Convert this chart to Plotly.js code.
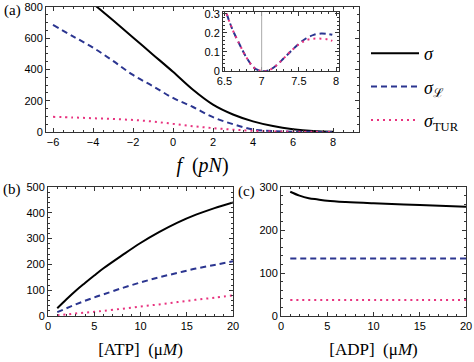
<!DOCTYPE html>
<html>
<head>
<meta charset="utf-8">
<script src="https://cdn.plot.ly/plotly-3.0.1.min.js"></script>
<style>html,body{margin:0;padding:0;background:#fff;}#chart{width:474px;height:362px;}</style>
</head>
<body>
<div id="chart"></div>
<script>
// ---- Panel (a): entropy production vs force f (pN)
const fSigma = [-4, -3, -2, -1, 0, 1, 2, 3, 4, 5, 6, 7, 8];
const sigmaA = [822, 715, 605, 495, 385, 270, 175, 112, 68, 38, 18, 6, 1];
const fA = [-6, -5, -4, -3, -2, -1, 0, 1, 2, 3, 4, 5, 6, 7, 8];
const sigmaLA = [685, 612, 540, 455, 365, 293, 218, 160, 95, 50, 16, 6, 2, 1, 0];
const sigmaTurA = [97, 93, 88, 83, 77, 67, 52, 37, 25, 15, 8, 4, 2, 1, 0];

// ---- Inset of (a)
const fInset = [6.53, 6.6, 6.7, 6.8, 6.9, 7.0, 7.1, 7.2, 7.3, 7.4, 7.5, 7.6, 7.7, 7.8, 7.9, 7.95];
const sigmaLInset = [0.30, 0.225, 0.142, 0.068, 0.016, 0.0, 0.004, 0.03, 0.068, 0.107, 0.143, 0.172, 0.19, 0.197, 0.194, 0.19];
const sigmaTurInset = [0.30, 0.225, 0.142, 0.068, 0.016, 0.0, 0.004, 0.03, 0.068, 0.107, 0.14, 0.162, 0.17, 0.17, 0.165, 0.158];

// ---- Panel (b): vs [ATP]
const atp = [1, 2, 3, 4, 5, 6, 8, 10, 12, 14, 16, 18, 20];
const sigmaB = [30, 65, 98, 128, 157, 185, 235, 283, 325, 362, 393, 418, 440];
const sigmaLB = [15, 30, 45, 59, 72, 84, 108, 130, 150, 167, 184, 198, 212];
const sigmaTurB = [3, 6, 10, 13, 16, 20, 28, 37, 45, 54, 63, 71, 80];

// ---- Panel (c): vs [ADP]
const adp = [1, 2, 3, 4, 5, 7, 10, 15, 20];
const sigmaC = [289, 280, 274, 271, 268, 265, 262, 258, 254];
const sigmaLC = [134, 134, 134, 134, 134, 134, 134, 134, 134];
const sigmaTurC = [37, 37, 37, 37, 37, 37, 37, 37, 37];

const legendNames = ['<i>σ</i>', '<i>σ</i><sub>ℒ</sub>', '<i>σ</i><sub>TUR</sub>'];

const BLACK = '#000000', BLUE = '#2b3590', PINK = '#e8337f';
const W = 474, H = 362;
const px = v => v / W, py = v => 1 - v / H;

const sBlack = {color: BLACK, width: 2, shape: 'spline'};
const sBlue = {color: BLUE, width: 2, dash: '6px,4px', shape: 'spline'};
const sPink = {color: PINK, width: 2, dash: '2px,4px', shape: 'spline'};

const traces = [
  {x: fSigma, y: sigmaA, xaxis: 'x', yaxis: 'y', mode: 'lines', line: sBlack, name: legendNames[0], legendgroup: 'g1'},
  {x: fA, y: sigmaLA, xaxis: 'x', yaxis: 'y', mode: 'lines', line: sBlue, name: legendNames[1], legendgroup: 'g2'},
  {x: fA, y: sigmaTurA, xaxis: 'x', yaxis: 'y', mode: 'lines', line: sPink, name: legendNames[2], legendgroup: 'g3'},
  {x: fInset, y: sigmaLInset, xaxis: 'x4', yaxis: 'y4', mode: 'lines', line: sBlue, showlegend: false},
  {x: fInset, y: sigmaTurInset, xaxis: 'x4', yaxis: 'y4', mode: 'lines', line: sPink, showlegend: false},
  {x: atp, y: sigmaB, xaxis: 'x2', yaxis: 'y2', mode: 'lines', line: sBlack, showlegend: false},
  {x: atp, y: sigmaLB, xaxis: 'x2', yaxis: 'y2', mode: 'lines', line: sBlue, showlegend: false},
  {x: atp, y: sigmaTurB, xaxis: 'x2', yaxis: 'y2', mode: 'lines', line: sPink, showlegend: false},
  {x: adp, y: sigmaC, xaxis: 'x3', yaxis: 'y3', mode: 'lines', line: sBlack, showlegend: false},
  {x: adp, y: sigmaLC, xaxis: 'x3', yaxis: 'y3', mode: 'lines', line: sBlue, showlegend: false},
  {x: adp, y: sigmaTurC, xaxis: 'x3', yaxis: 'y3', mode: 'lines', line: sPink, showlegend: false}
];

const tickFont = {family: 'Liberation Sans, Arial, sans-serif', size: 11, color: '#000'};
function ax(opts) {
  return Object.assign({
    showline: true, linecolor: '#333', linewidth: 1, mirror: 'ticks',
    ticks: 'inside', ticklen: 4, tickwidth: 1, tickcolor: '#333',
    showgrid: false, zeroline: false, tickfont: tickFont, fixedrange: true,
  }, opts);
}
const serif = 'Liberation Serif, DejaVu Serif, serif';

const layout = {
  width: W, height: H,
  margin: {l: 0, r: 0, t: 0, b: 0},
  paper_bgcolor: '#fff', plot_bgcolor: '#fff',
  showlegend: true,
  legend: {x: px(366), y: py(35), xanchor: 'left', yanchor: 'top',
    font: {family: serif, size: 18, color: '#000'}, itemwidth: 48,
    tracegroupgap: 7, bgcolor: 'rgba(0,0,0,0)', traceorder: 'grouped'},
  xaxis: ax({domain: [px(46), px(359)], range: [-6.35, 9.3], anchor: 'y',
    tickvals: [-6, -4, -2, 0, 2, 4, 6, 8], minor: {dtick: 0.5, ticks: 'inside', ticklen: 2, tickcolor: '#333'},
    title: {text: '<i>f</i>  (<i>pN</i>)', font: {family: serif, size: 20, color: '#000'}, standoff: 10}}),
  yaxis: ax({domain: [py(132), py(7)], range: [0, 800], anchor: 'x',
    tickvals: [0, 200, 400, 600, 800], minor: {dtick: 50, ticks: 'inside', ticklen: 2, tickcolor: '#333'}}),
  xaxis2: ax({domain: [px(48), px(233)], range: [0, 20], anchor: 'y2',
    tickvals: [0, 5, 10, 15, 20], minor: {dtick: 1, ticks: 'inside', ticklen: 2, tickcolor: '#333'},
    title: {text: '[ATP]  (μ<i>M</i>)', font: {family: serif, size: 17, color: '#000'}, standoff: 11}}),
  yaxis2: ax({domain: [py(316), py(187)], range: [0, 500], anchor: 'x2',
    tickvals: [0, 100, 200, 300, 400, 500], minor: {dtick: 20, ticks: 'inside', ticklen: 2, tickcolor: '#333'}}),
  xaxis3: ax({domain: [px(281), px(466)], range: [0, 20], anchor: 'y3',
    tickvals: [0, 5, 10, 15, 20], minor: {dtick: 1, ticks: 'inside', ticklen: 2, tickcolor: '#333'},
    title: {text: '[ADP]  (μ<i>M</i>)', font: {family: serif, size: 17, color: '#000'}, standoff: 11}}),
  yaxis3: ax({domain: [py(316), py(187)], range: [0, 300], anchor: 'x3',
    tickvals: [0, 100, 200, 300], minor: {dtick: 20, ticks: 'inside', ticklen: 2, tickcolor: '#333'}}),
  xaxis4: ax({domain: [px(223), px(339)], range: [6.48, 8.04], anchor: 'y4',
    tickvals: [6.5, 7, 7.5, 8], minor: {dtick: 0.1, ticks: 'inside', ticklen: 2, tickcolor: '#333'}}),
  yaxis4: ax({domain: [py(71), py(12)], range: [0, 0.31], anchor: 'x4',
    tickvals: [0, 0.1, 0.2, 0.3], minor: {dtick: 0.02, ticks: 'inside', ticklen: 2, tickcolor: '#333'}}),
  shapes: [
    {type: 'line', xref: 'x4', yref: 'y4 domain', x0: 7, x1: 7, y0: 0, y1: 1, line: {color: '#aaa', width: 1}}
  ],
  annotations: [
    {text: '(a)', x: px(12), y: py(10), xref: 'paper', yref: 'paper', showarrow: false, xanchor: 'center', yanchor: 'middle', font: {family: serif, size: 15, color: '#000'}},
    {text: '(b)', x: px(12), y: py(189), xref: 'paper', yref: 'paper', showarrow: false, xanchor: 'center', yanchor: 'middle', font: {family: serif, size: 15, color: '#000'}},
    {text: '(c)', x: px(246), y: py(191), xref: 'paper', yref: 'paper', showarrow: false, xanchor: 'center', yanchor: 'middle', font: {family: serif, size: 15, color: '#000'}}
  ]
};

Plotly.newPlot('chart', traces, layout, {staticPlot: true, displayModeBar: false});
</script>
</body>
</html>
